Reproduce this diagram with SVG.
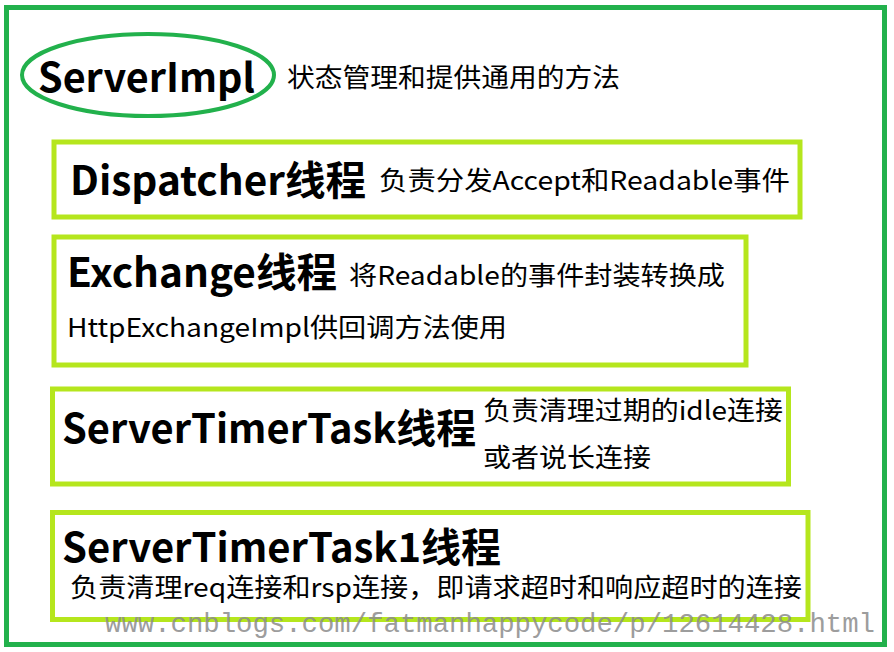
<svg xmlns="http://www.w3.org/2000/svg" width="894" height="652" viewBox="0 0 894 652">
<style>
.frame{fill:none;stroke:#22b14c;stroke-width:5}
.box{fill:#fff;stroke:#b5e61d;stroke-width:5}
.t{font-family:"Noto Sans CJK SC","Open Sans",sans-serif;font-weight:700;font-size:40px;fill:#000}
.d{font-family:"Noto Sans CJK SC","Open Sans",sans-serif;font-size:26px;fill:#000}
.wm{font-family:"Liberation Mono","DejaVu Sans Mono",monospace;font-size:27px;fill:#8c8c8c;opacity:0.85}
</style>
<rect width="894" height="652" fill="#fff"/>
<rect class="frame" x="6.5" y="7.5" width="878" height="637"/>
<g id="serverimpl">
<ellipse cx="148" cy="75" rx="126" ry="41" fill="none" stroke="#22b14c" stroke-width="4"/>
<text class="t" x="38" y="92" font-size="42" textLength="217" lengthAdjust="spacingAndGlyphs">ServerImpl</text>
<text class="d" x="287" y="87" textLength="333" lengthAdjust="spacingAndGlyphs">状态管理和提供通用的方法</text>
</g>
<g id="dispatcher">
<rect class="box" x="54" y="142" width="746" height="75"/>
<text class="t" x="70" y="195" textLength="296" lengthAdjust="spacingAndGlyphs">Dispatcher线程</text>
<text class="d" x="379" y="190" textLength="411" lengthAdjust="spacingAndGlyphs">负责分发Accept和Readable事件</text>
</g>
<g id="exchange">
<rect class="box" x="54" y="237" width="692" height="128"/>
<text class="t" x="67" y="287" textLength="270" lengthAdjust="spacingAndGlyphs">Exchange线程</text>
<text class="d" x="349" y="285" textLength="376" lengthAdjust="spacingAndGlyphs">将Readable的事件封装转换成</text>
<text class="d" x="67" y="337" textLength="440" lengthAdjust="spacingAndGlyphs">HttpExchangeImpl供回调方法使用</text>
</g>
<g id="servertimertask">
<rect class="box" x="52.5" y="389" width="736" height="95"/>
<text class="t" x="62" y="443" textLength="414" lengthAdjust="spacingAndGlyphs">ServerTimerTask线程</text>
<text class="d" x="483" y="420" textLength="300" lengthAdjust="spacingAndGlyphs">负责清理过期的idle连接</text>
<text class="d" x="483" y="467" textLength="168" lengthAdjust="spacingAndGlyphs">或者说长连接</text>
</g>
<g id="servertimertask1">
<rect class="box" x="52.5" y="512.5" width="755.5" height="107"/>
<text class="t" x="62" y="562" textLength="439" lengthAdjust="spacingAndGlyphs">ServerTimerTask1线程</text>
<text class="d" x="70" y="597" textLength="732" lengthAdjust="spacingAndGlyphs">负责清理req连接和rsp连接，即请求超时和响应超时的连接</text>
</g>
<g id="connectors"/>
<text class="wm" x="105" y="632" textLength="770" lengthAdjust="spacingAndGlyphs">www.cnblogs.com/fatmanhappycode/p/12614428.html</text>
</svg>
